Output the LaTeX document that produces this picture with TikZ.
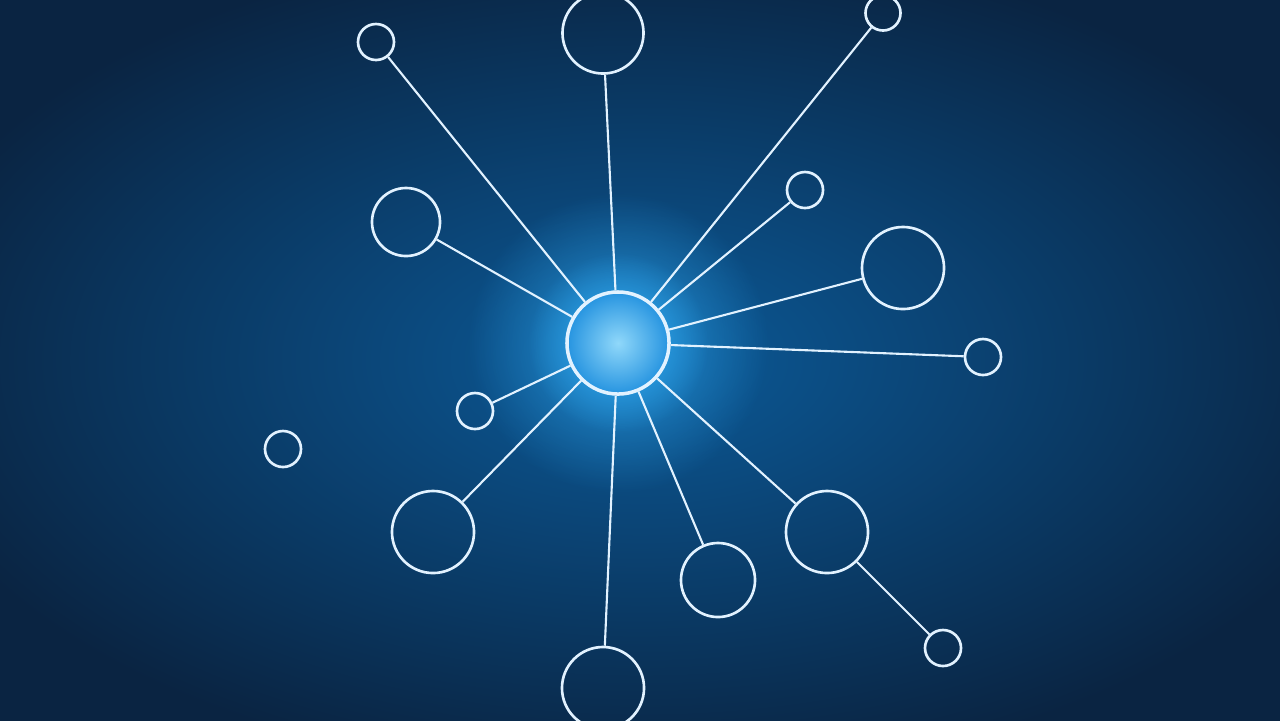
\documentclass[tikz,border=0pt]{standalone}
\usetikzlibrary{fadings}
\definecolor{bgouter}{HTML}{0A2442}
\definecolor{bginner}{HTML}{0B5A98}
\definecolor{glowblue}{HTML}{2FA8F0}
\definecolor{ring}{HTML}{E2F2FF}
\definecolor{hubin}{HTML}{90D8FA}
\definecolor{hubout}{HTML}{2694E0}
\tikzfading[name=glowfade, inner color=transparent!0, outer color=transparent!100]

\begin{document}
\begin{tikzpicture}[x=0.01cm, y=-0.01cm,
  leaf/.style={circle, draw=ring, line width=0.75pt, inner sep=0pt, minimum size=#1},
  hub/.style={circle, draw=ring, line width=1pt, inner sep=0pt, minimum size=1.02cm,
    inner color=hubin, outer color=hubout},
  spoke/.style={draw=ring, line width=0.6pt}]
\useasboundingbox (0,0) rectangle (1280,720);
\shade[inner color=bginner, outer color=bgouter] (-120,-60) rectangle (1400,780);
\fill[glowblue, path fading=glowfade, fill opacity=0.75] (618,343) circle (1.5cm);
\fill[glowblue, path fading=glowfade] (618,343) circle (0.9cm);

%% hub and leaves
\node[hub] (0) at (618,343) {};
\node[leaf=0.36cm] (1) at (376,42) {};
\node[leaf=0.81cm] (2) at (603,33) {};
\node[leaf=0.35cm] (3) at (883,13) {};
\node[leaf=0.68cm] (4) at (406,222) {};
\node[leaf=0.36cm] (5) at (805,190) {};
\node[leaf=0.82cm] (6) at (903,268) {};
\node[leaf=0.36cm] (7) at (983,357) {};
\node[leaf=0.36cm] (8) at (475,411) {};
\node[leaf=0.36cm] (9) at (283,449) {};
\node[leaf=0.82cm] (10) at (433,532) {};
\node[leaf=0.74cm] (11) at (718,580) {};
\node[leaf=0.82cm] (12) at (827,532) {};
\node[leaf=0.36cm] (13) at (943,648) {};
\node[leaf=0.82cm] (14) at (603,688) {};

\foreach \n in {1,...,8,10,11,12,14}
  \draw[spoke] (0) -- (\n);
\draw[spoke] (12) -- (13);

\end{tikzpicture}
\end{document}
